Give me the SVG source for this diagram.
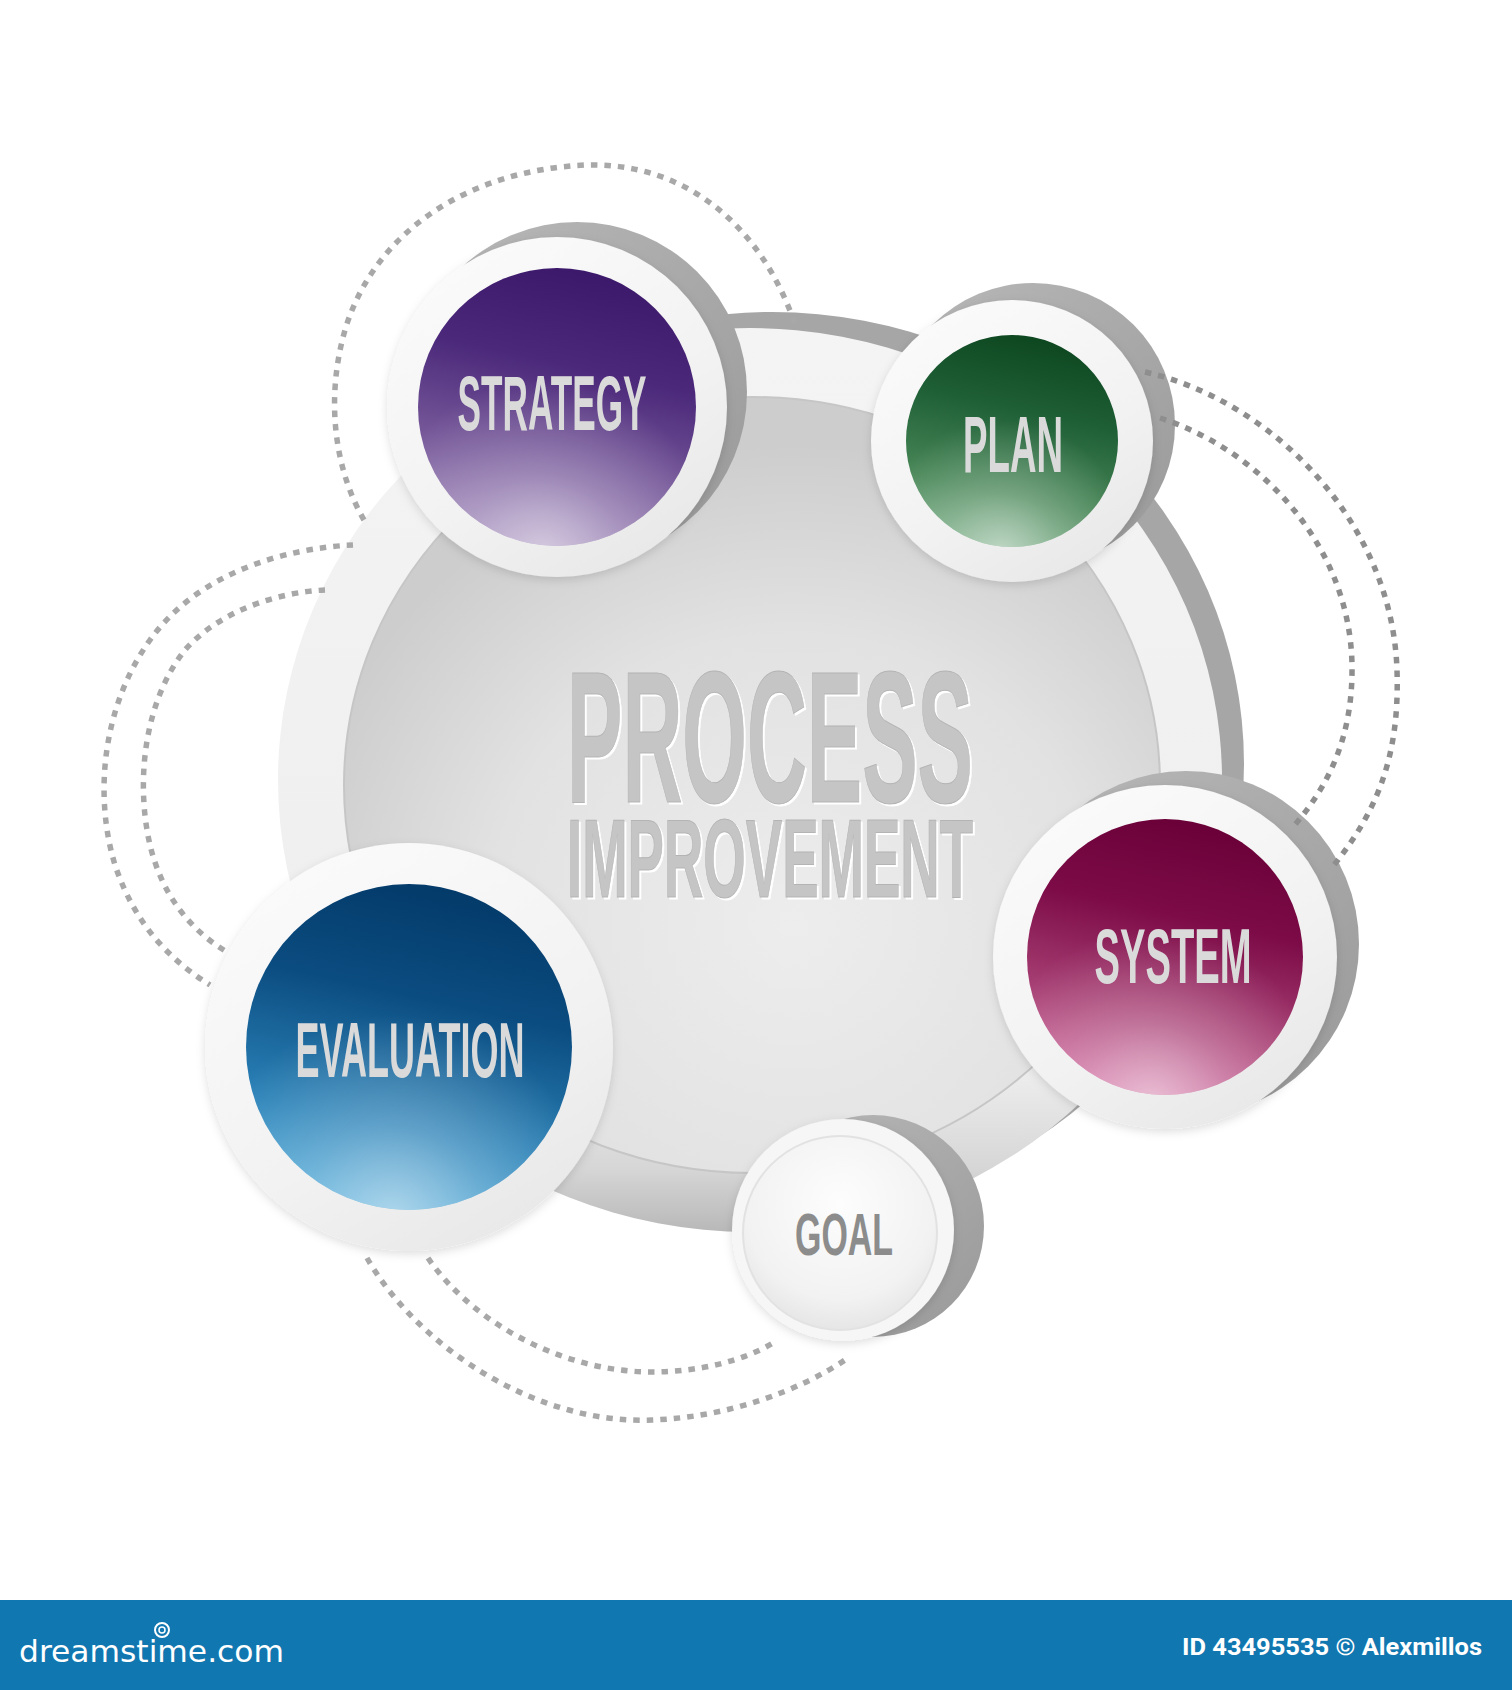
<svg xmlns="http://www.w3.org/2000/svg" width="1512" height="1690" viewBox="0 0 1512 1690">
<defs>
<style>
.lbl{font-family:"Liberation Sans Narrow","Liberation Sans","DejaVu Sans Condensed",Arial,sans-serif;font-weight:bold;fill:#dadada;text-anchor:middle}
.emb{font-family:"Liberation Sans Narrow","Liberation Sans","DejaVu Sans Condensed",Arial,sans-serif;font-weight:bold;text-anchor:middle}
.dash{fill:none;stroke:#a8a8a8;stroke-width:5.5;stroke-dasharray:6.5 7}
.dashd{fill:none;stroke:#8e8e8e;stroke-width:5.5;stroke-dasharray:6.5 7}
.ring{fill:url(#ringW);filter:url(#soft)}
.shade{fill:url(#shadeG)}
.gloss{fill:url(#gloss)}
</style>
<filter id="soft" x="-20%" y="-20%" width="140%" height="140%">
<feDropShadow dx="0" dy="3" stdDeviation="5" flood-color="#000" flood-opacity="0.13"/>
</filter>
<filter id="emboss" x="-5%" y="-10%" width="110%" height="120%">
<feOffset in="SourceAlpha" dx="2" dy="2" result="o"/>
<feFlood flood-color="#ffffff"/>
<feComposite in2="o" operator="in" result="hi"/>
<feMerge><feMergeNode in="hi"/><feMergeNode in="SourceGraphic"/></feMerge>
</filter>
<linearGradient id="ringW" x1="0.2" y1="0" x2="0.8" y2="1">
<stop offset="0" stop-color="#fbfbfb"/><stop offset="0.6" stop-color="#f2f2f2"/><stop offset="1" stop-color="#e7e7e7"/>
</linearGradient>
<linearGradient id="shadeG" x1="0" y1="0" x2="1" y2="1">
<stop offset="0" stop-color="#b9b9b9"/><stop offset="1" stop-color="#999"/>
</linearGradient>
<linearGradient id="bigRing" x1="0" y1="0" x2="0" y2="1">
<stop offset="0" stop-color="#f4f4f4"/><stop offset="0.82" stop-color="#eeeeee"/><stop offset="0.93" stop-color="#d6d6d6"/><stop offset="1" stop-color="#b8b8b8"/>
</linearGradient>
<radialGradient id="inner" cx="0.55" cy="0.68" r="0.62">
<stop offset="0" stop-color="#ededed"/><stop offset="0.6" stop-color="#e2e2e2"/><stop offset="1" stop-color="#cdcdcd"/>
</radialGradient>
<radialGradient id="gloss" cx="0.45" cy="1.02" r="0.62">
<stop offset="0" stop-color="#ffffff" stop-opacity="0.55"/><stop offset="0.45" stop-color="#ffffff" stop-opacity="0.25"/><stop offset="1" stop-color="#ffffff" stop-opacity="0"/>
</radialGradient>
<linearGradient id="gPurple" x1="0.62" y1="0" x2="0.4" y2="1">
<stop offset="0" stop-color="#3c186b"/><stop offset="0.35" stop-color="#4b287a"/><stop offset="0.75" stop-color="#7c5f9e"/><stop offset="1" stop-color="#9f87b8"/>
</linearGradient>
<linearGradient id="gGreen" x1="0.62" y1="0" x2="0.4" y2="1">
<stop offset="0" stop-color="#0c461f"/><stop offset="0.35" stop-color="#1f5f36"/><stop offset="0.75" stop-color="#478656"/><stop offset="1" stop-color="#6da57a"/>
</linearGradient>
<linearGradient id="gMag" x1="0.62" y1="0" x2="0.4" y2="1">
<stop offset="0" stop-color="#6a0038"/><stop offset="0.35" stop-color="#7c0b47"/><stop offset="0.75" stop-color="#ac4579"/><stop offset="1" stop-color="#d06c9f"/>
</linearGradient>
<linearGradient id="gBlue" x1="0.62" y1="0" x2="0.4" y2="1">
<stop offset="0" stop-color="#033a69"/><stop offset="0.35" stop-color="#0b4c80"/><stop offset="0.75" stop-color="#2a82b8"/><stop offset="1" stop-color="#4aa6d6"/>
</linearGradient>
<radialGradient id="goalG" cx="0.5" cy="0.35" r="0.7">
<stop offset="0" stop-color="#fdfdfd"/><stop offset="0.7" stop-color="#f2f2f2"/><stop offset="1" stop-color="#e2e2e2"/>
</radialGradient>
</defs>
<rect width="1512" height="1690" fill="#fff"/>

<g id="central">
<ellipse cx="772" cy="764" rx="472" ry="452" fill="#a6a6a6"/>
<ellipse cx="750" cy="780" rx="472" ry="452" fill="url(#bigRing)"/>
<ellipse cx="752" cy="785" rx="408" ry="388" fill="url(#inner)" stroke="#c6c6c6" stroke-width="2"/>
<text class="emb" fill="#c5c5c5" stroke="#b4b4b4" stroke-width="1" filter="url(#emboss)"><tspan x="770" y="802" font-size="187" textLength="406" lengthAdjust="spacingAndGlyphs">PROCESS</tspan><tspan x="770" y="897" font-size="112" textLength="406" lengthAdjust="spacingAndGlyphs">IMPROVEMENT</tspan></text>
</g>

<g id="node-strategy">
<circle class="shade" cx="577" cy="392" r="170"/>
<circle class="ring" cx="557" cy="407" r="170"/>
<circle cx="557" cy="407" r="139" fill="url(#gPurple)"/>
<circle class="gloss" cx="557" cy="407" r="139"/>
<text class="lbl" x="552" y="430" font-size="77" textLength="189" lengthAdjust="spacingAndGlyphs">STRATEGY</text>
</g>

<g id="node-plan">
<circle class="shade" cx="1033" cy="425" r="142"/>
<circle class="ring" cx="1012" cy="441" r="141"/>
<circle cx="1012" cy="441" r="106" fill="url(#gGreen)"/>
<circle class="gloss" cx="1012" cy="441" r="106"/>
<text class="lbl" x="1013" y="472" font-size="79" textLength="100" lengthAdjust="spacingAndGlyphs">PLAN</text>
</g>

<g id="node-system">
<circle class="shade" cx="1186" cy="944" r="173"/>
<circle class="ring" cx="1165" cy="957" r="172"/>
<circle cx="1165" cy="957" r="138" fill="url(#gMag)"/>
<circle class="gloss" cx="1165" cy="957" r="138"/>
<text class="lbl" x="1173" y="983" font-size="77" textLength="157" lengthAdjust="spacingAndGlyphs">SYSTEM</text>
</g>

<g id="node-evaluation">
<circle class="ring" cx="409" cy="1047" r="204"/>
<circle cx="409" cy="1047" r="163" fill="url(#gBlue)"/>
<circle class="gloss" cx="409" cy="1047" r="163"/>
<text class="lbl" x="410" y="1077" font-size="77" textLength="229" lengthAdjust="spacingAndGlyphs">EVALUATION</text>
</g>

<g id="node-goal">
<circle class="shade" cx="873" cy="1226" r="111"/>
<circle cx="843" cy="1230" r="111" fill="#f6f6f6" filter="url(#soft)"/>
<circle cx="840" cy="1233" r="97" fill="url(#goalG)" stroke="#e2e2e2" stroke-width="2"/>
<text class="emb" x="844" y="1255" font-size="60" textLength="98" lengthAdjust="spacingAndGlyphs" fill="#8c8c8c">GOAL</text>
</g>

<g id="connectors">
<path class="dash" d="M364,520 C335,470 325,400 345,330 C375,230 470,170 586,165 C680,162 760,220 796,327"/>
<path class="dashd" d="M1145,372 C1270,400 1392,520 1397,670 C1400,760 1375,815 1330,870"/>
<path class="dashd" d="M1160,418 C1260,450 1350,545 1352,665 C1353,735 1330,785 1292,828"/>
<path class="dash" d="M353,545 C290,548 200,570 150,640 C100,710 95,800 115,865 C135,925 170,960 210,985"/>
<path class="dash" d="M325,590 C280,592 220,610 185,650 C145,700 135,780 150,845 C162,895 190,930 227,952"/>
<path class="dash" d="M367,1258 C420,1350 540,1425 652,1420 C730,1417 800,1390 845,1360"/>
<path class="dash" d="M428,1258 C470,1320 560,1372 652,1372 C700,1372 745,1360 773,1343"/>
</g>

<g id="banner">
<rect x="0" y="1600" width="1512" height="90" fill="#1177b0"/>
<circle cx="162" cy="1630" r="7" fill="none" stroke="#fff" stroke-width="2"/>
<circle cx="162" cy="1630" r="3" fill="none" stroke="#fff" stroke-width="1.5"/>
<text x="19" y="1662" font-family="'DejaVu Sans','Noto Sans',sans-serif" font-size="31" fill="#fff" textLength="265" lengthAdjust="spacingAndGlyphs">dreamstime.com</text>
<text x="1182" y="1655" font-family="'Roboto','Liberation Sans',sans-serif" font-weight="bold" font-size="23" fill="#fff" textLength="300" lengthAdjust="spacingAndGlyphs">ID 43495535 © Alexmillos</text>
</g>
</svg>
